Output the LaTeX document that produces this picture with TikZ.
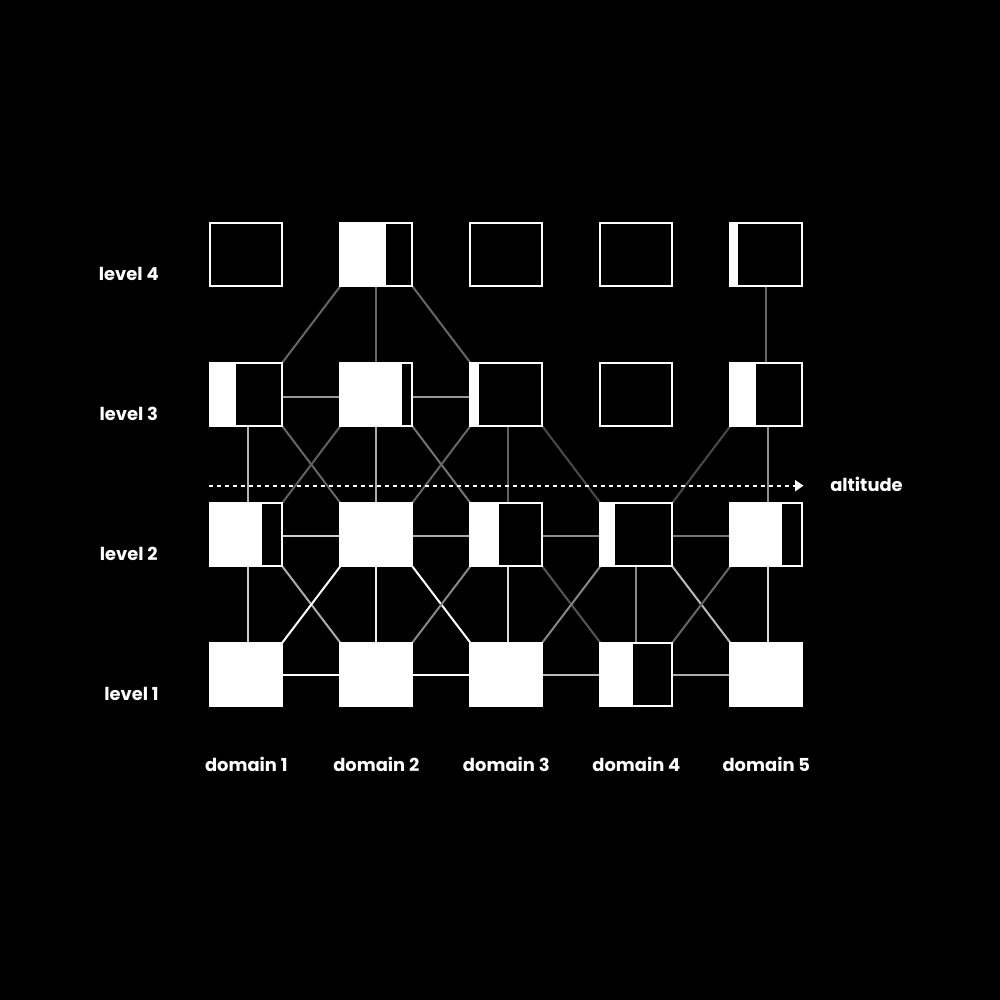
\documentclass[tikz,border=0pt]{standalone}
\usepackage{fontspec}
\setmainfont{Poppins}
\usetikzlibrary{arrows.meta}
\pgfdeclarelayer{bg}
\pgfdeclarelayer{canvas}
\pgfsetlayers{canvas,bg,main}
\tikzset{
  cellbox/.style={rectangle, draw=white, line width=2pt, minimum width=72pt, minimum height=63.5pt, inner sep=0pt, outer sep=0pt, fill=black},
  fullbox/.style={cellbox, fill=white},
  conn/.style={line width=2pt, draw=white!#1!black},
  lbl/.style={text=white, font=\fontsize{17.9}{20}\selectfont\bfseries, anchor=base, inner sep=0pt},
}
\newcommand{\partfill}[2]{\fill[white] (#1.north west) rectangle ([xshift=#2*72pt]#1.south west);}
\begin{document}
\begin{tikzpicture}[x=1pt,y=-1pt]
\begin{pgfonlayer}{canvas}
\fill[black] (0,0) rectangle (1000,1000);
\end{pgfonlayer}
\useasboundingbox (0,0) rectangle (1000,1000);
% level 4
\node[cellbox] (a4) at (246.3,254.4) {};
\node[cellbox] (b4) at (376.3,254.4) {};
\node[cellbox] (c4) at (506.3,254.4) {};
\node[cellbox] (d4) at (636.3,254.4) {};
\node[cellbox] (e4) at (766.3,254.4) {};
% level 3
\node[cellbox] (a3) at (246.3,394.4) {};
\node[cellbox] (b3) at (376.3,394.4) {};
\node[cellbox] (c3) at (506.3,394.4) {};
\node[cellbox] (d3) at (636.3,394.4) {};
\node[cellbox] (e3) at (766.3,394.4) {};
% level 2
\node[cellbox] (a2) at (246.3,534.6) {};
\node[fullbox] (b2) at (376.3,534.6) {};
\node[cellbox] (c2) at (506.3,534.6) {};
\node[cellbox] (d2) at (636.3,534.6) {};
\node[cellbox] (e2) at (766.3,534.6) {};
% level 1
\node[fullbox] (a1) at (246.3,674.4) {};
\node[fullbox] (b1) at (376.3,674.4) {};
\node[fullbox] (c1) at (506.3,674.4) {};
\node[cellbox] (d1) at (636.3,674.4) {};
\node[fullbox] (e1) at (766.3,674.4) {};
% partial fills
\partfill{b4}{0.635}
\partfill{e4}{0.107}
\partfill{a3}{0.353}
\partfill{b3}{0.86}
\partfill{c3}{0.117}
\partfill{e3}{0.357}
\partfill{a2}{0.718}
\partfill{c2}{0.40}
\partfill{d2}{0.21}
\partfill{e2}{0.718}
\partfill{d1}{0.454}
\begin{pgfonlayer}{bg}
% level 4 -> 3
\draw[conn=40] (b4.south west) -- (a3.north east);
\draw[conn=40] (b4.south) -- (b3.north);
\draw[conn=40] (b4.south east) -- (c3.north west);
\draw[conn=40] (e4.south) -- (e3.north);
% level 3 horizontals
\draw[conn=60] ([yshift=-2.6pt]a3.east) -- ([yshift=-2.6pt]b3.west);
\draw[conn=60] ([yshift=-2.6pt]b3.east) -- ([yshift=-2.6pt]c3.west);
% level 3 -> 2
\draw[conn=70] ([xshift=1.5pt]a3.south) -- ([xshift=1.5pt]a2.north);
\draw[conn=40] (a3.south east) -- (b2.north west);
\draw[conn=38] (b3.south west) -- (a2.north east);
\draw[conn=67] (b3.south) -- (b2.north);
\draw[conn=45] (b3.south east) -- (c2.north west);
\draw[conn=40] (c3.south west) -- (b2.north east);
\draw[conn=38] ([xshift=1.5pt]c3.south) -- ([xshift=1.5pt]c2.north);
\draw[conn=29] (c3.south east) -- (d2.north west);
\draw[conn=29] (e3.south west) -- (d2.north east);
\draw[conn=56] ([xshift=1.5pt]e3.south) -- ([xshift=1.5pt]e2.north);
% level 2 horizontals
\draw[conn=80] ([yshift=-1pt]a2.east) -- ([yshift=-1pt]b2.west);
\draw[conn=67] ([yshift=-1pt]b2.east) -- ([yshift=-1pt]c2.west);
\draw[conn=55] ([yshift=-1pt]c2.east) -- ([yshift=-1pt]d2.west);
\draw[conn=47] ([yshift=-1pt]d2.east) -- ([yshift=-1pt]e2.west);
% level 2 -> 1
\draw[conn=80] ([xshift=1.5pt]a2.south) -- ([xshift=1.5pt]a1.north);
\draw[conn=67] (a2.south east) -- (b1.north west);
\draw[conn=100] (b2.south west) -- (a1.north east);
\draw[conn=95] (b2.south) -- (b1.north);
\draw[conn=100] (b2.south east) -- (c1.north west);
\draw[conn=53] (c2.south west) -- (b1.north east);
\draw[conn=87] ([xshift=1.5pt]c2.south) -- ([xshift=1.5pt]c1.north);
\draw[conn=33] (c2.south east) -- (d1.north west);
\draw[conn=53] (d2.south west) -- (c1.north east);
\draw[conn=53] (d2.south) -- (d1.north);
\draw[conn=73] (d2.south east) -- (e1.north west);
\draw[conn=40] (e2.south west) -- (d1.north east);
\draw[conn=87] ([xshift=1.5pt]e2.south) -- ([xshift=1.5pt]e1.north);
% level 1 horizontals
\draw[conn=100] ([yshift=-0.6pt]a1.east) -- ([yshift=-0.6pt]b1.west);
\draw[conn=100] ([yshift=-0.6pt]b1.east) -- ([yshift=-0.6pt]c1.west);
\draw[conn=73] ([yshift=-0.6pt]c1.east) -- ([yshift=-0.6pt]d1.west);
\draw[conn=67] ([yshift=-0.6pt]d1.east) -- ([yshift=-0.6pt]e1.west);
\end{pgfonlayer}
% altitude arrow
\coordinate (altS) at (209,485.7);
\coordinate (altE) at (803.5,485.7);
\draw[white, line width=2pt, dash pattern=on 4pt off 4pt, -{Triangle[length=8.5pt,width=11pt]}] (altS) -- (altE);
\node[lbl] (alt) at (866.5,491) {altitude};
% level labels
\node[lbl] (l4) at (128.8,280.7) {level 4};
\node[lbl] (l3) at (128.8,420.7) {level 3};
\node[lbl] (l2) at (128.8,560.9) {level 2};
\node[lbl] (l1) at (131.5,700.7) {level 1};
% domain labels
\node[lbl] (t1) at (246.3,771.7) {domain 1};
\node[lbl] (t2) at (376.3,771.7) {domain 2};
\node[lbl] (t3) at (506.3,771.7) {domain 3};
\node[lbl] (t4) at (636.3,771.7) {domain 4};
\node[lbl] (t5) at (766.3,771.7) {domain 5};
\end{tikzpicture}
\end{document}
